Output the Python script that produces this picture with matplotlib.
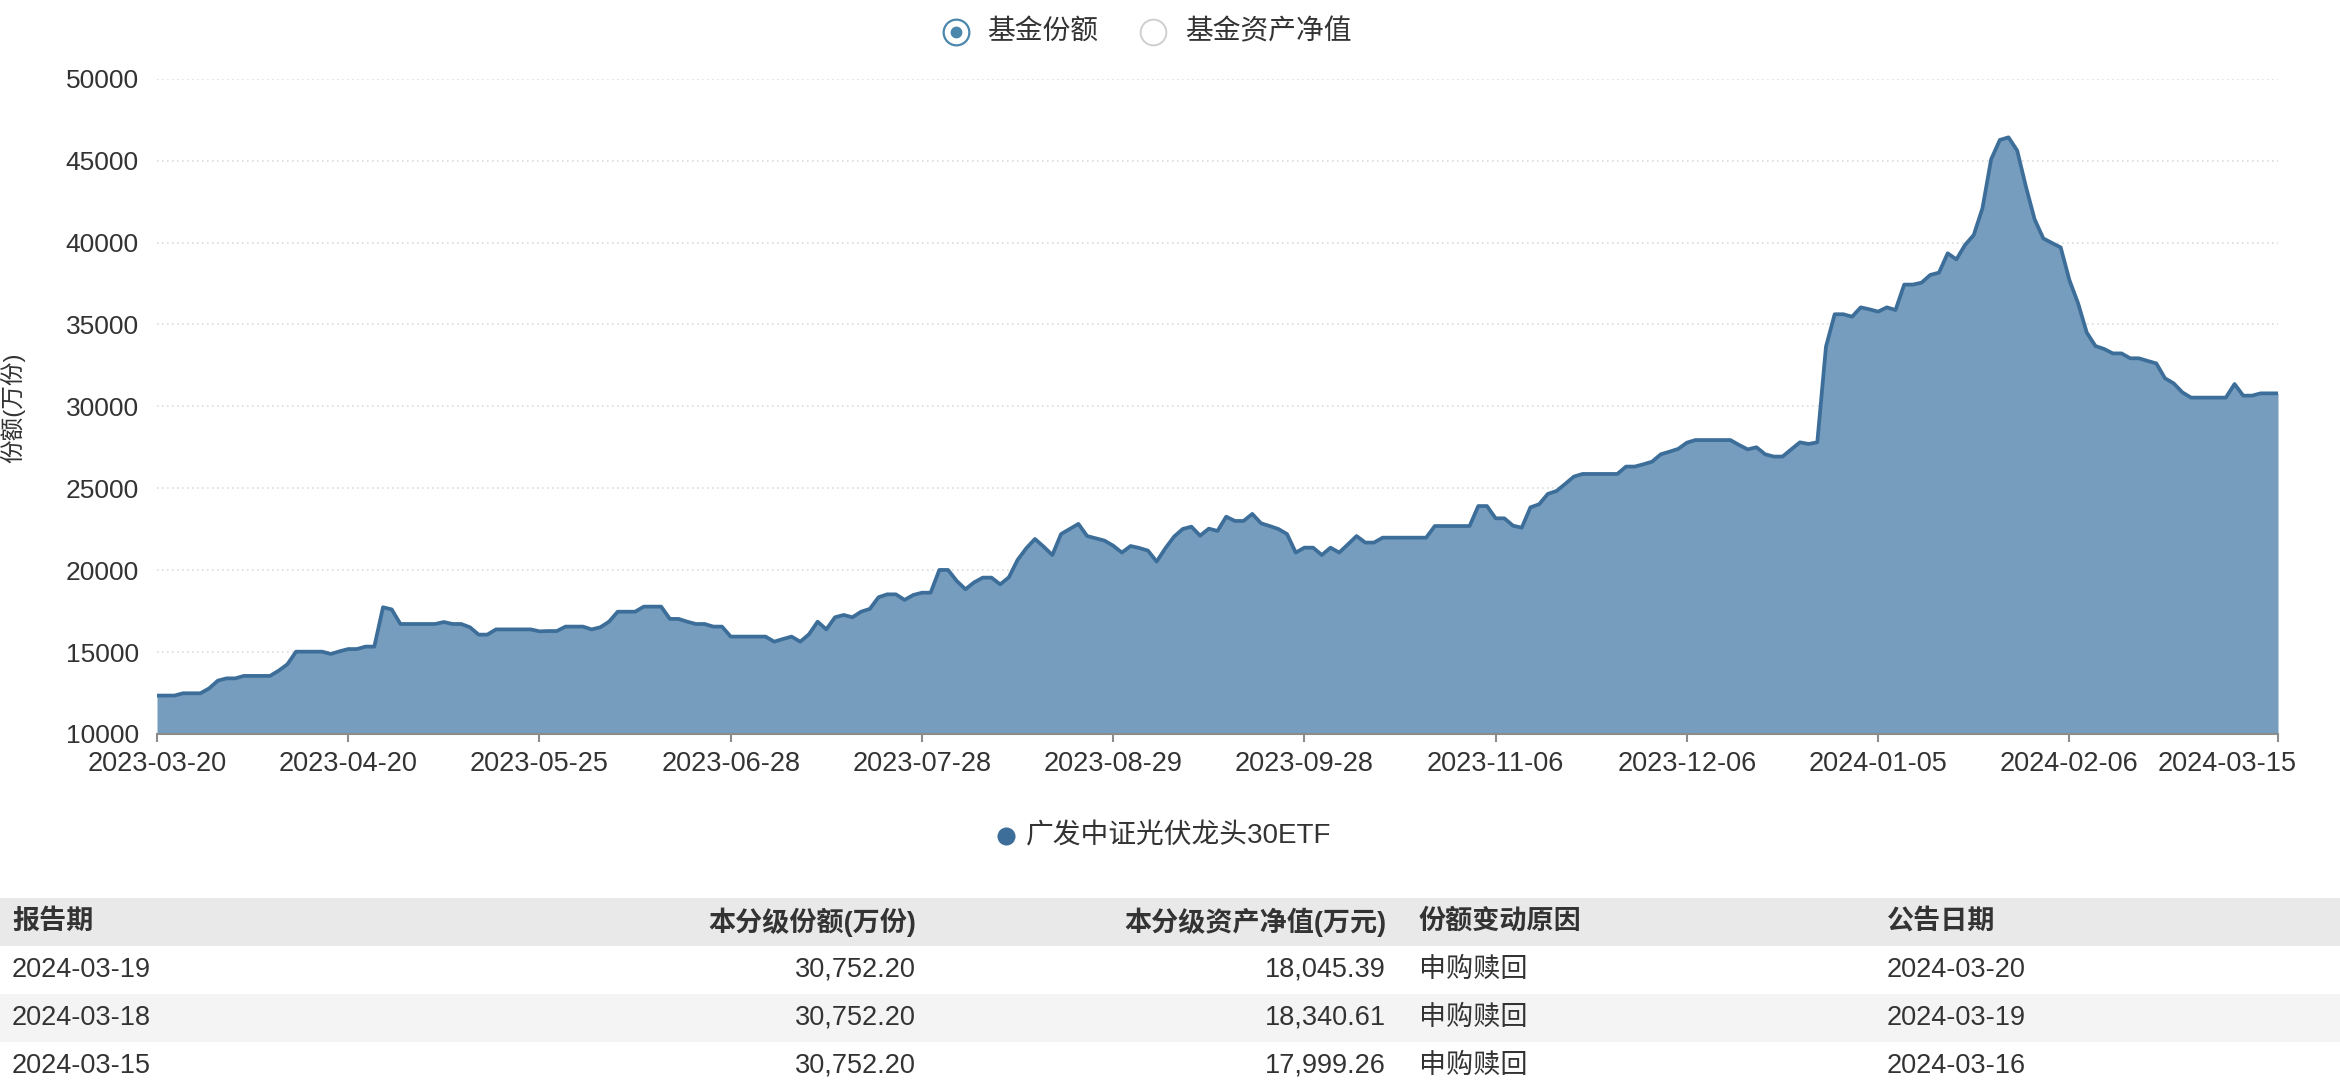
import matplotlib
matplotlib.use("Agg")
import matplotlib.pyplot as plt
from matplotlib.lines import Line2D
from matplotlib.patches import Rectangle

plt.rcParams['font.family'] = ['Liberation Sans', 'Noto Sans CJK SC', 'DejaVu Sans']

# 基金份额 (万份), one value per trading day
shares = [
    12340, 12340, 12340, 12480, 12480, 12480, 12780, 13250, 13390, 13390,
    13540, 13540, 13540, 13540, 13860, 14250, 15020, 15020, 15020, 15020,
    14880, 15040, 15180, 15180, 15330, 15330, 17730, 17600, 16710, 16710,
    16710, 16710, 16710, 16830, 16710, 16710, 16510, 16060, 16060, 16380,
    16380, 16380, 16380, 16380, 16260, 16280, 16280, 16550, 16550, 16550,
    16380, 16510, 16850, 17460, 17460, 17460, 17770, 17770, 17770, 17020,
    17020, 16850, 16710, 16710, 16550, 16550, 15940, 15940, 15940, 15940,
    15940, 15630, 15790, 15940, 15630, 16080, 16850, 16380, 17120, 17260,
    17120, 17460, 17630, 18340, 18520, 18520, 18180, 18480, 18620, 18620,
    20010, 20010, 19340, 18830, 19250, 19540, 19540, 19130, 19560, 20620,
    21330, 21900, 21430, 20920, 22200, 22510, 22820, 22080, 21940, 21800,
    21490, 21070, 21470, 21350, 21190, 20520, 21330, 22040, 22510, 22650,
    22100, 22530, 22390, 23260, 23000, 23000, 23430, 22860, 22690, 22510,
    22200, 21070, 21370, 21370, 20920, 21370, 21070, 21570, 22080, 21680,
    21680, 21980, 21980, 21980, 21980, 21980, 21980, 22690, 22690, 22690,
    22690, 22690, 23910, 23910, 23160, 23160, 22710, 22590, 23830, 24020,
    24650, 24830, 25260, 25710, 25870, 25870, 25870, 25870, 25870, 26320,
    26320, 26460, 26620, 27070, 27230, 27400, 27780, 27940, 27940, 27940,
    27940, 27940, 27640, 27370, 27500, 27070, 26930, 26930, 27370, 27800,
    27700, 27800, 33640, 35620, 35620, 35470, 36040, 35920, 35780, 36040,
    35880, 37430, 37430, 37550, 38020, 38160, 39340, 38970, 39850, 40460,
    42090, 45080, 46260, 46420, 45610, 43410, 41420, 40250, 39970, 39700,
    37710, 36290, 34500, 33680, 33500, 33230, 33230, 32930, 32930, 32770,
    32620, 31710, 31400, 30850, 30530, 30530, 30530, 30530, 30530, 31360,
    30650, 30650, 30790, 30790, 30790,
]
tick_labels = ['2023-03-20', '2023-04-20', '2023-05-25', '2023-06-28', '2023-07-28', '2023-08-29',
               '2023-09-28', '2023-11-06', '2023-12-06', '2024-01-05', '2024-02-06', '2024-03-15']
y_ticks = [10000, 15000, 20000, 25000, 30000, 35000, 40000, 45000, 50000]

fund_name = '广发中证光伏龙头30ETF'
legend_items = ['基金份额', '基金资产净值']

table_header = ['报告期', '本分级份额(万份)', '本分级资产净值(万元)', '份额变动原因', '公告日期']
report_dates = ['2024-03-19', '2024-03-18', '2024-03-15']
share_values = ['30,752.20', '30,752.20', '30,752.20']
nav_values = ['18,045.39', '18,340.61', '17,999.26']
reasons = ['申购赎回', '申购赎回', '申购赎回']
announce_dates = ['2024-03-20', '2024-03-19', '2024-03-16']

W, H = 2340, 1080
def fx(x):
    return x / W
def fy(y):
    return 1 - y / H

fig = plt.figure(figsize=(23.4, 10.8), dpi=100)
left, right, top, bottom = 157, 2278, 78.7, 733.9
ax = fig.add_axes([fx(left), fy(bottom), (right - left) / W, (bottom - top) / H])

idx = list(range(len(shares)))
line_c = '#3c6e99'
ax.fill_between(idx, shares, y_ticks[0], color='#769dbe', lw=0, zorder=2)
ax.plot(idx, shares, color=line_c, lw=2.7, zorder=3, solid_joinstyle='round')

ax.set_xlim(0, len(shares) - 1)
ax.set_ylim(y_ticks[0], y_ticks[-1])
ax.set_yticks(y_ticks)
ax.set_yticklabels([str(v) for v in y_ticks])
tick_pos = list(range(0, len(shares) - 1, 22))[:len(tick_labels) - 1] + [len(shares) - 1]
ax.set_xticks(tick_pos)
# last date label is drawn separately so that it stays inside the picture
ax.set_xticklabels(tick_labels[:-1] + [''])

ax.yaxis.grid(True, color='#dcdcdc', linestyle=(0, (1, 2)), lw=1.2, zorder=0)
ax.set_axisbelow(True)
for s in ['top', 'right', 'left']:
    ax.spines[s].set_visible(False)
ax.spines['bottom'].set_color('#8c8c8c')
ax.spines['bottom'].set_linewidth(1.5)
ax.spines['bottom'].set_zorder(4)
ax.tick_params(axis='y', length=0, pad=13, labelsize=19, labelcolor='#333333')
ax.tick_params(axis='x', length=6, width=1.5, color='#8c8c8c', pad=6, labelsize=19.5, labelcolor='#333333')

fig.text(fx(2297), fy(bottom + 16.7), tick_labels[-1], ha='right', va='top', fontsize=19.5, color='#333333')

fig.text(fx(13), fy(408), '份额(万份)', rotation=90, ha='center', va='center', fontsize=17, color='#333333')

# top radio legend
sel_c = '#4b87ad'
for i, (cx, tx) in enumerate([(956, 987), (1153, 1185)]):
    if i == 0:
        fig.add_artist(Line2D([fx(cx)], [fy(32)], marker='o', markersize=18.5, markerfacecolor='white',
                              markeredgecolor=sel_c, markeredgewidth=1.6, transform=fig.transFigure))
        fig.add_artist(Line2D([fx(cx)], [fy(32)], marker='o', markersize=8.5, markerfacecolor=sel_c,
                              markeredgewidth=0, transform=fig.transFigure))
    else:
        fig.add_artist(Line2D([fx(cx)], [fy(32)], marker='o', markersize=18.5, markerfacecolor='white',
                              markeredgecolor='#cfcfcf', markeredgewidth=1.4, transform=fig.transFigure))
    fig.text(fx(tx), fy(32), legend_items[i], ha='left', va='center', fontsize=20, color='#333333')

# series legend
fig.add_artist(Line2D([fx(1006)], [fy(836)], marker='o', markersize=13, markerfacecolor=line_c,
                      markeredgewidth=0, transform=fig.transFigure))
fig.text(fx(1026), fy(836), fund_name, ha='left', va='center', fontsize=20, color='#333333')

# table
fig.add_artist(Rectangle((0, fy(946)), 1, (946 - 898) / H, transform=fig.transFigure,
                         facecolor='#e9e9e9', edgecolor='none'))
fig.add_artist(Rectangle((0, fy(1042)), 1, (1042 - 994) / H, transform=fig.transFigure,
                         facecolor='#f4f4f4', edgecolor='none'))

col_x = [12, 916, 1386, 1419, 1887]
col_ha = ['left', 'right', 'right', 'left', 'left']
row_y = [922, 970, 1018, 1066]
for j, h in enumerate(table_header):
    fig.text(fx(col_x[j]), fy(row_y[0]), h, ha=col_ha[j], va='center', fontsize=19.5,
             fontweight='bold', color='#333333')
for i in range(len(report_dates)):
    row = [report_dates[i], share_values[i], nav_values[i], reasons[i], announce_dates[i]]
    for j, v in enumerate(row):
        fig.text(fx(col_x[j]), fy(row_y[i + 1]), v, ha=col_ha[j], va='center', fontsize=19.5, color='#333333')

fig.savefig('out.png', dpi=100)
